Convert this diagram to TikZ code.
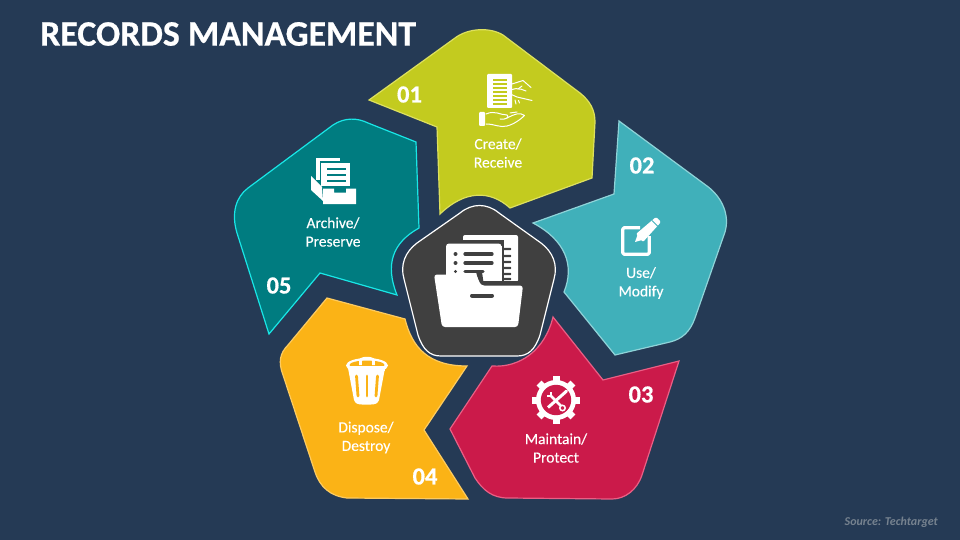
\documentclass[tikz,border=0pt]{standalone}
\usepackage{fontspec}
\setmainfont{Carlito}
\newfontface\heavy[FakeBold=0.6]{Carlito Bold}
\newfontface\medium[FakeBold=0.25]{Carlito}
\definecolor{bgc}{HTML}{253A55}
\definecolor{olive}{HTML}{C3CB1F}\definecolor{oliveE}{HTML}{DDE05E}
\definecolor{tealD}{HTML}{007C80}\definecolor{tealE}{HTML}{19E6E6}
\definecolor{tealL}{HTML}{40B0BA}\definecolor{tealLE}{HTML}{8FD3D8}
\definecolor{crim}{HTML}{CB1A4A}\definecolor{crimE}{HTML}{EA5F85}
\definecolor{amber}{HTML}{FBB316}\definecolor{amberE}{HTML}{FDCB60}
\definecolor{coreC}{HTML}{404040}
\definecolor{srcC}{HTML}{76828F}
\tikzset{
  x=1pt,y=-1pt,
  petal/.style={line width=1.2pt,line join=miter},
  num/.style={text=white,font=\fontsize{24.5}{24}\heavy,inner sep=0pt},
  lbl/.style={text=white,font=\fontsize{15.5}{18.5}\medium,align=center,inner sep=0pt},
  thin ink/.style={draw=white,line width=1pt,line cap=round,line join=round,fill=none},
}
\begin{document}
\begin{tikzpicture}
\useasboundingbox (0,0) rectangle (960,540);
\fill[bgc] (0,0) rectangle (960,540);
\node[anchor=west,text=white,inner sep=0pt,font=\fontsize{35.8}{36}\heavy] (title) at (40,34) {RECORDS MANAGEMENT};

% 01
\draw[petal,fill=olive,draw=oliveE] (369,100) -- (455,38) .. controls (468,28) and (490,27) .. (503,35) -- (580,93)
  .. controls (590,101) and (595,110) .. (595,122) -- (592,178) -- (510,208)
  .. controls (490,190) and (465,190) .. (440,214) -- (437,127) -- cycle;
% 05
\draw[petal,fill=tealD,draw=tealE] (416,142) -- (419,228) .. controls (392,243) and (385,265) .. (397,295)
  -- (320,273) -- (269,334) -- (237,233) .. controls (231,213) and (236,197) .. (248,188)
  -- (333,125) .. controls (345,117) and (358,118) .. (368,123) -- cycle;
% 02
\draw[petal,fill=tealL,draw=tealLE] (619,121) -- (707,186) .. controls (722,197) and (730,215) .. (725,232)
  -- (695,318) .. controls (690,332) and (682,339) .. (670,342) -- (615,355) -- (564,292)
  .. controls (575,265) and (565,240) .. (533,223) -- (614,194) -- cycle;
% 03
\draw[petal,fill=crim,draw=crimE] (553,317) -- (603,380) -- (679,361) -- (642,475)
  .. controls (637,490) and (625,499) .. (612,499) -- (508,498) .. controls (492,498) and (483,490) .. (475,478)
  -- (450,429) -- (492,366) .. controls (520,368) and (545,350) .. (553,317) -- cycle;
% 04
\draw[petal,fill=amber,draw=amberE] (327,298) -- (405,319) .. controls (412,347) and (428,366) .. (467,366)
  -- (424,430) -- (468,499) -- (347,498) .. controls (330,496) and (320,487) .. (315,472)
  -- (283,375) .. controls (278,362) and (280,353) .. (288,345) -- cycle;
% core
\draw[fill=coreC,draw=white,line width=1.2pt] (460,213) .. controls (472,203) and (487,203) .. (499,213)
  -- (541,243) .. controls (553,252) and (558,265) .. (554,279) -- (540,335)
  .. controls (535,350) and (528,356) .. (517,356) -- (441,356)
  .. controls (430,356) and (423,350) .. (418,335) -- (404,279)
  .. controls (400,265) and (405,252) .. (417,243) -- cycle;

% folder icon
\fill[white,rounded corners=2pt] (463,235) rectangle (518,282);
\fill[coreC] (460,240) rectangle (504,246);
\fill[coreC] (502,243) rectangle (504,283);
\foreach \yy in {249,256,262,268,274,279}{\fill[coreC,rounded corners=0.6pt] (503,\yy-1.1) rectangle (511,\yy+1.1);}
\fill[white,rounded corners=3pt] (446,243.5) -- (501.5,243.5) -- (501.5,285) -- (446,285) -- cycle;
\foreach \yy in {254,263}{
  \fill[coreC] (455.5,\yy) circle (2);
  \draw[coreC,line width=3.2pt,line cap=round] (465,\yy) -- (492,\yy);}
\draw[coreC,line width=3.2pt,line cap=round] (465,271.5) -- (483,271.5);
\fill[coreC] (455.5,271.5) circle (1.6);
\fill[coreC] (478,280.5) rectangle (521,287);
\fill[coreC] (476,272) -- (482,272) -- (484,286) -- (480,286) -- cycle;
\fill[white,rounded corners=3pt] (434,274.5) -- (476,274.5) -- (481,285.5) -- (523,285.5) -- (518,327) -- (442,327) -- cycle;
\draw[coreC,line width=4pt,line cap=round] (472,295.5) -- (492,295.5);

% create icon
\fill[white,rounded corners=1pt] (487,74) rectangle (512,108);
\foreach \yy in {80,84,88,92,96,100,104}{\draw[olive,line width=1.2pt] (493,\yy) -- (507,\yy);}
\draw[thin ink] (512,84) -- (523,80.5) -- (531,87.5);
\draw[thin ink] (532,100.5) -- (517,97) -- (508,93) .. controls (511,87) and (520,88) .. (526,91);
\draw[thin ink] (522,86) -- (518,89);
\draw[thin ink] (515,100) -- (516,104);\draw[thin ink] (518.5,100.5) -- (519.5,103);
\fill[white,rounded corners=1pt] (479,112) rectangle (485,126);
\draw[thin ink] (486,114) .. controls (495,110) and (500,115) .. (507,115) .. controls (510,117) and (506,120) .. (500,119);
\draw[thin ink] (486,124) .. controls (495,124) and (500,128) .. (507,126) .. controls (515,124) and (522,118) .. (524.5,115.5) .. controls (520,112) and (515,114) .. (507,118);
\draw[thin ink] (510,113) -- (517,112);

% archive icon
\fill[white] (316,158) rectangle (340,180);
\draw[fill=white,draw=tealD,line width=1.2pt] (320.5,162) -- (350.5,162) -- (350.5,187) -- (320.5,187) -- cycle;
\foreach \yy in {169,175,181}{\draw[tealD,line width=1.3pt] (327,\yy) -- (346,\yy);}
\fill[white] (311,176) -- (322,187) -- (323,201) -- (311,190) -- cycle;
\fill[white] (323,188.5) -- (334,188.5) -- (334,192.5) -- (346,192.5) -- (346,188.5) -- (356,188.5) -- (356,204) -- (323,204) -- cycle;

% edit icon
\draw[white,line width=3.2pt,line join=round,rounded corners=1.5pt] (640,227.7) -- (622.7,227.7) -- (622.7,254.3) -- (649.3,254.3) -- (649.3,236);
\fill[white,rounded corners=1.2pt] (656,217) -- (661,222) -- (643,242) -- (636,234) -- cycle;
\fill[white] (637.5,235) -- (642,240) -- (635,242) -- cycle;
\draw[tealL,line width=0.8pt] (652,220.5) -- (657.5,226);

% gear icon
\fill[white] (556,400) circle (20);
\foreach \aa in {0,45,...,315}{
  \fill[white,rotate around={\aa:(556,400)}] (552.5,376) rectangle (559.5,385);}
\fill[crim] (556,400) circle (15.2);
\draw[white,line width=3pt] (548,407.5) -- (565,392.5);
\draw[white,line width=3pt,line cap=round] (565,392.5) -- (566.5,391);
\draw[white,line width=2.6pt] (551,396) -- (561,406);
\draw[white,line width=1.5pt,fill=crim] (562.5,408) circle (2.7);
\draw[white,line width=2pt] (551,396) -- (546.5,396) (551,396) -- (551,391.5);

% trash icon
\fill[white] (348,368) -- (385,368) -- (379,400) .. controls (378,403.5) and (375,404.5) .. (371,404.5) -- (362,404.5) .. controls (358,404.5) and (355,403.5) .. (354,400) -- cycle;
\fill[white] (367,365.5) ellipse (21 and 7.5);
\fill[amber] (367,365) ellipse (17.5 and 4.5);
\fill[white] (349,366) -- (385,366) -- (385,371) -- (349,371) -- cycle;
\draw[white,line width=2.8pt] (360.5,365) -- (360.5,360.5) .. controls (360.5,357.5) and (373.5,357.5) .. (373.5,360.5) -- (373.5,365);
\foreach \xa/\xb in {356.5/358,367/367,377.5/376}{\draw[amber,line width=2.8pt,line cap=round] (\xa,376) -- (\xb,396);}

% labels
\node[num] (n1) at (409.5,94.5) {01};
\node[num] (n2) at (642,165.5) {02};
\node[num] (n3) at (641,394.5) {03};
\node[num] (n4) at (425,476.5) {04};
\node[num] (n5) at (279,285.5) {05};
\node[lbl] (l1) at (498,153) {Create/\\Receive};
\node[lbl] (l2) at (641,283) {Use/\\Modify};
\node[lbl] (l3) at (556,448) {Maintain/\\Protect};
\node[lbl] (l4) at (366,437.5) {Dispose/\\Destroy};
\node[lbl] (l5) at (333,232) {Archive/\\Preserve};
\node[anchor=east,inner sep=0pt,text=srcC,font=\fontsize{12}{14}\selectfont\bfseries\itshape] (src) at (938,522) {Source: Techtarget};
\end{tikzpicture}
\end{document}
